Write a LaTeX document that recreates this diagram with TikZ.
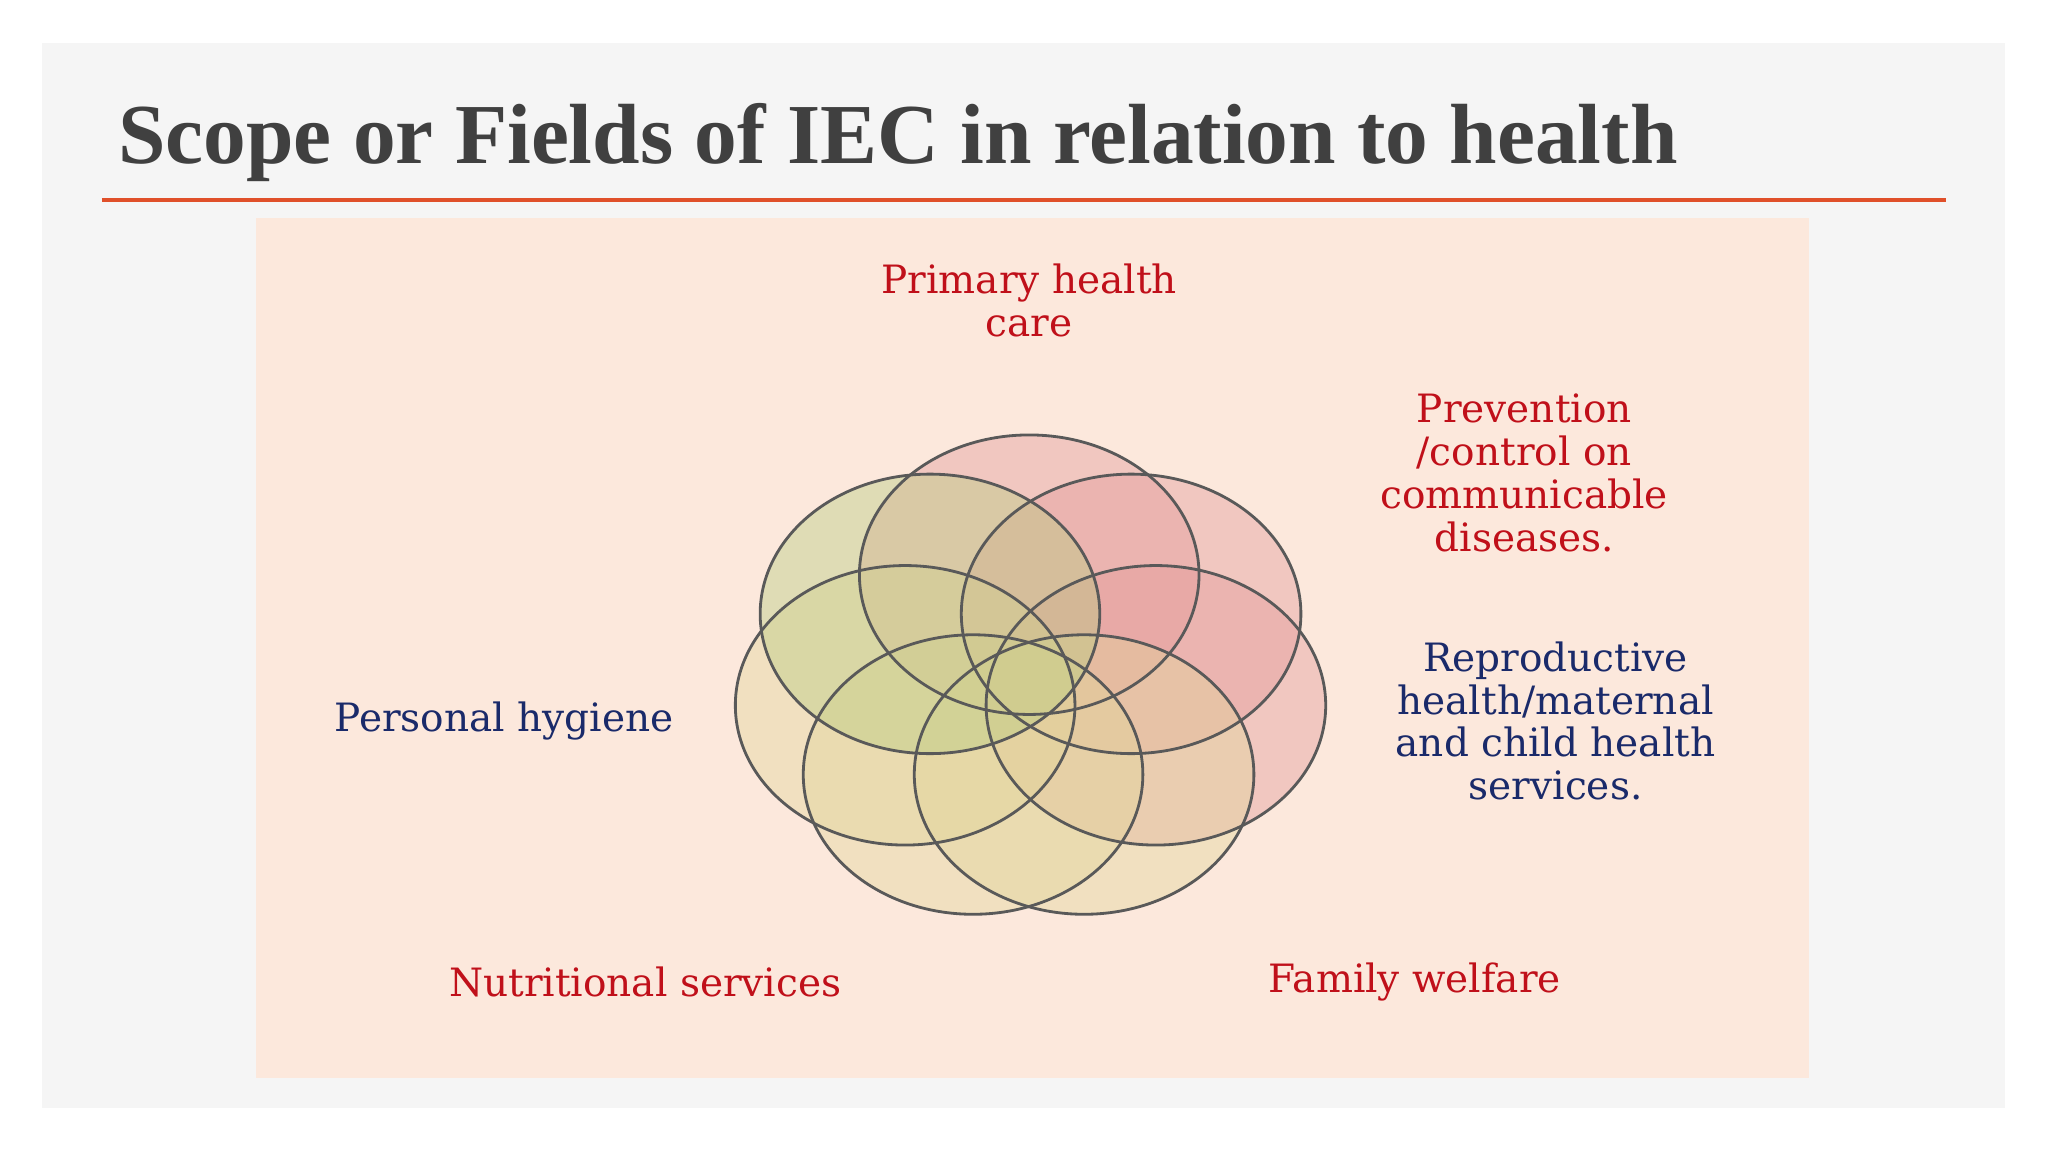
\documentclass[tikz,border=0pt]{standalone}
\usepackage{fontspec}
\setmainfont{Liberation Serif}
\newfontfamily\labfont{DejaVu Serif}
\definecolor{panel}{HTML}{F5F5F5}
\definecolor{peach}{HTML}{FCE8DC}
\definecolor{rline}{HTML}{E0502A}
\definecolor{tred}{HTML}{C0101A}
\definecolor{tnavy}{HTML}{1A2A6A}
\definecolor{pinkf}{HTML}{E49A9A}
\definecolor{greenf}{HTML}{B8CC80}
\definecolor{yelf}{HTML}{E2D69A}
\begin{document}
\begin{tikzpicture}[x=0.01306cm,y=-0.01306cm,
  lab/.style={font=\labfont\fontsize{11.1pt}{12.2pt}\selectfont,align=center}]
\useasboundingbox (0,0) rectangle (1568,882);
\fill[white] (0,0) rectangle (1568,882);
\fill[panel] (32,33) rectangle (1535,848);
\node[anchor=base west,inner sep=0,text=black!75,font=\fontsize{24.3pt}{28pt}\selectfont\bfseries] (title) at (90,125) {Scope or Fields of IEC in relation to health};
\draw[rline,line width=1.1pt] (78,153) -- (1490,153);
\fill[peach] (196,167) rectangle (1385,825);
% ellipses
\foreach \cx/\cy/\c in {788/440/pinkf,866/470/pinkf,885/540/pinkf,830/593/yelf,745/593/yelf,693/540/yelf,712/470/greenf}{
  \fill[\c,fill opacity=0.42] (\cx,\cy) ellipse [x radius=130,y radius=107];
}
\foreach \cx/\cy in {788/440,866/470,885/540,830/593,745/593,693/540,712/470}{
  \draw[black!65,line width=0.8pt] (\cx,\cy) ellipse [x radius=130,y radius=107];
}
\node[lab,text=tred] (phc) at (788,230) {Primary health\\care};
\node[lab,text=tred] (prev) at (1167,362) {Prevention\\/control on\\communicable\\diseases.};
\node[lab,text=tnavy] (rep) at (1191,552) {Reproductive\\health/maternal\\and child health\\services.};
\node[lab,text=tnavy] (ph) at (386,552) {Personal hygiene};
\node[lab,text=tred] (nut) at (494,752) {Nutritional services};
\node[lab,text=tred] (fw) at (1083,752) {Family welfare};
\end{tikzpicture}
\end{document}
